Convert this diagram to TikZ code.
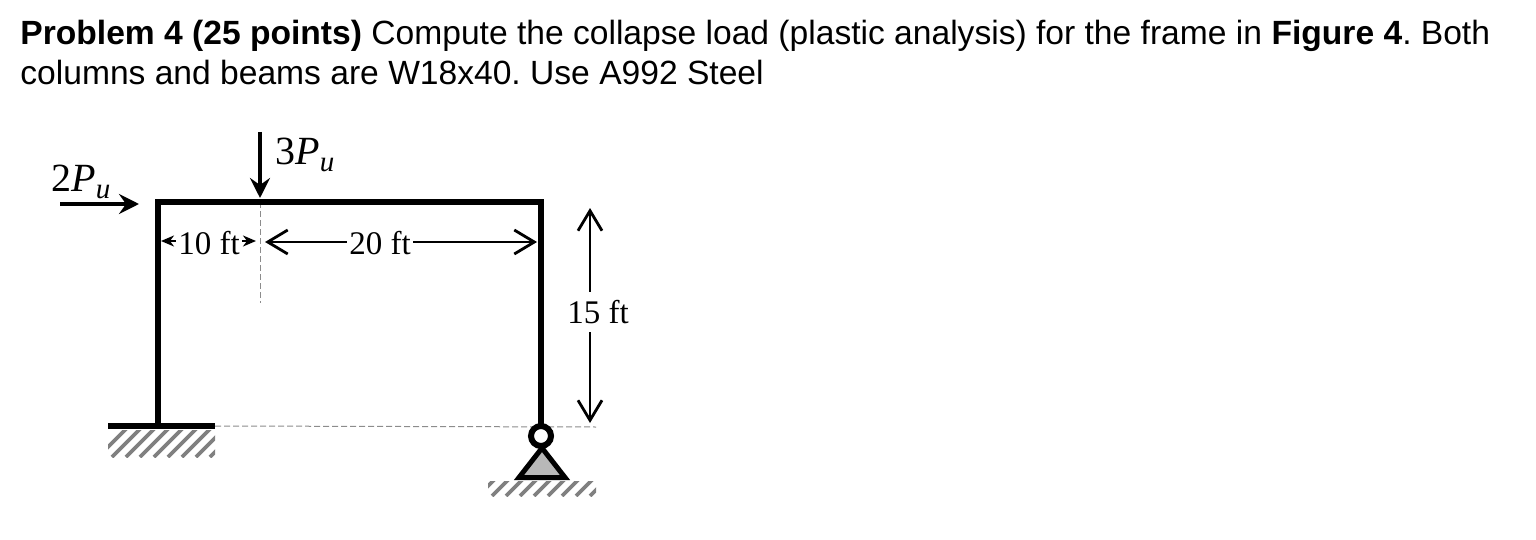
\documentclass[tikz,border=0pt]{standalone}
\usepackage{fontspec}
\setmainfont{Liberation Sans}
\newfontfamily\dimfont{Liberation Serif}
\usetikzlibrary{arrows.meta}
\tikzstyle{member}=[line width=3pt,line join=miter]
\tikzstyle{heading}=[anchor=base west,inner sep=0pt,font=\fontsize{16.8}{18}\selectfont]
\tikzstyle{load}=[line width=2pt,-{Stealth[length=10pt,width=10pt,inset=3.5pt]}]
\tikzstyle{guide}=[line width=.5pt,black!45,dash pattern=on 3pt off 1.5pt]
\tikzstyle{dimbar}=[line width=1.2pt,<->,>={Straight Barb[length=10pt,width=12pt,line width=1.4pt]}]
\tikzstyle{dimsmall}=[line width=1pt,<->,>={Stealth[length=6.5pt,width=5.5pt,inset=2pt]}]
\tikzstyle{dimtext}=[fill=white,inner xsep=1pt,inner ysep=1pt,font=\dimfont\fontsize{16.5}{16.5}\selectfont]
\tikzstyle{loadtext}=[inner sep=0pt,font=\dimfont\fontsize{20}{20}\selectfont]
\tikzstyle{hatching}=[line width=1.8pt,black!50]
\newcommand{\loadname}[2]{#1\textit{P}\raisebox{-.35ex}{\fontsize{14.5}{14.5}\selectfont\textit{#2}}}
\begin{document}
\frenchspacing
\begin{tikzpicture}[x=.5pt,y=-.5pt]
  \useasboundingbox (0,0) rectangle (1536,540);
  \node[heading] (line-1) at (20,45) {\textbf{Problem 4 (25 points)} Compute the collapse load (plastic analysis) for the frame in \textbf{Figure 4}. Both};
  \node[heading] (line-2) at (20,85) {columns and beams are W18x40. Use A992 Steel};
  % frame corners
  \foreach \name/\x/\y in {A/158/426, B/158/202, C/260/202, D/541/202, E/541/436, F/260/303,
                           G/108/426, H/215/426, K/596/427}
    \coordinate (\name) at (\x,\y);
  % hatched ground
  \foreach \xa/\ya/\xb/\yb in {108/430/215/457, 488/481/596/496} {
    \begin{scope}
      \clip (\xa,\ya) rectangle (\xb,\yb);
      \foreach \i in {0,...,10}
        \draw[hatching] (\xa+\i*14-10,\yb) -- ++(36,-36);
    \end{scope}
  }
  \draw[guide] (C) -- (F);
  \draw[guide] (H) -- (K);
  % dimensions
  \coordinate (d-1) at (161,241);
  \coordinate (d-2) at (256,241);
  \coordinate (d-3) at (265,242);
  \coordinate (d-4) at (537,242);
  \coordinate (d-5) at (590,208);
  \coordinate (d-6) at (590,423);
  \draw[dimsmall] (d-1) -- (d-2);
  \draw[dimbar] (d-3) -- (d-4);
  \draw[dimbar] (d-5) -- (d-6);
  \node[dimtext] (ten) at (209,243) {10 ft};
  \node[dimtext] (twenty) at (380,243) {20 ft};
  \node[dimtext,inner ysep=4pt] (fifteen) at (598,312) {15 ft};
  % frame
  \draw[member] (A) -- (B) -- (D) -- (E);
  \draw[member] (G) -- (H);
  % pin support
  \coordinate (S-1) at (542,448);
  \coordinate (S-2) at (519,477.5);
  \coordinate (S-3) at (565,477.5);
  \draw[line width=2.5pt,fill=black!28] (S-1) -- (S-2) -- (S-3) -- cycle;
  \node[circle,draw,fill=white,line width=3pt,minimum size=10pt,inner sep=0pt] (pin) at (E) {};
  % loads
  \coordinate (L-1) at (260,132);
  \coordinate (L-2) at (260,198);
  \coordinate (L-3) at (60,204);
  \coordinate (L-4) at (139,204);
  \draw[load] (L-1) -- (L-2);
  \draw[load] (L-3) -- (L-4);
  \node[loadtext] (vert) at (305,155) {\loadname{3}{u}};
  \node[loadtext] (horiz) at (81,182) {\loadname{2}{u}};
\end{tikzpicture}
\end{document}
